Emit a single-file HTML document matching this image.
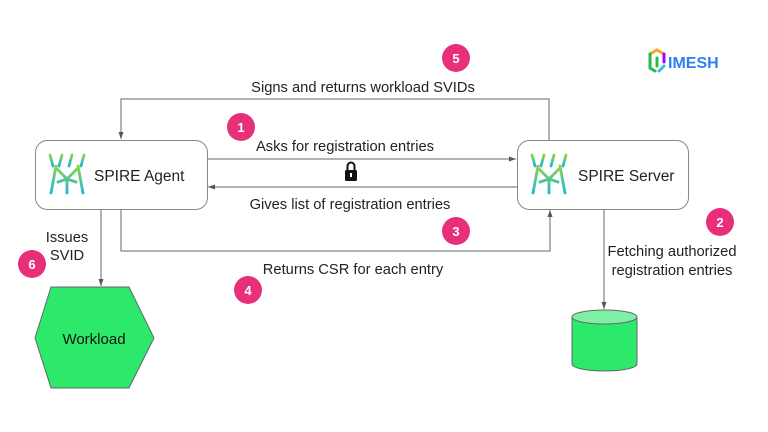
<!DOCTYPE html>
<html><head><meta charset="utf-8"><style>
html,body{margin:0;padding:0;background:#fff;}
svg{display:block;font-family:"Liberation Sans",sans-serif;}
</style></head><body>
<svg width="768" height="432" viewBox="0 0 768 432" xmlns="http://www.w3.org/2000/svg">
<defs>
<marker id="a" markerWidth="8" markerHeight="8" refX="7" refY="4" orient="auto" markerUnits="userSpaceOnUse">
<path d="M0,1.5 L7,4 L0,6.5 Z" fill="#555"/></marker>
<linearGradient id="g" x1="0" y1="0" x2="0" y2="1">
<stop offset="0" stop-color="#8bd640"/><stop offset="1" stop-color="#1fb6e0"/></linearGradient>
<g id="ic" stroke="url(#g)" stroke-width="2.8" fill="none" stroke-linecap="round">
<path d="M0,0 L3,11 M12,0 L9,11 M22,0 L19,11 M34,0 L31,11"/>
<path d="M-2,13 L36,13"/>
<path d="M6,11 L1,38 M28,11 L33,38 M6,13 L17,24 L28,13 M17,24 L17,38 M8,27 L17,24 L26,27"/>
</g>
</defs>
<g stroke="#666" stroke-width="1" fill="none">
<polyline points="549,140 549,99 121,99 121,139" marker-end="url(#a)"/>
<line x1="207" y1="159" x2="516" y2="159" marker-end="url(#a)"/>
<line x1="517" y1="187" x2="208" y2="187" marker-end="url(#a)"/>
<polyline points="121,209 121,251 550,251 550,210" marker-end="url(#a)"/>
<line x1="101" y1="209" x2="101" y2="286" marker-end="url(#a)"/>
<line x1="604" y1="209" x2="604" y2="309" marker-end="url(#a)"/>
</g>
<rect x="35.5" y="140.5" width="172" height="69" rx="12" fill="#fff" stroke="#888"/>
<rect x="517.5" y="140.5" width="171" height="69" rx="12" fill="#fff" stroke="#888"/>
<use href="#ic" x="50" y="155"/>
<use href="#ic" x="532" y="155"/>
<g font-size="15.5" fill="#222">
<text x="94" y="181">SPIRE Agent</text>
<text x="578" y="181">SPIRE Server</text>
</g>
<polygon points="51,287 129,287 154,338 129,388 51,388 35,338" fill="#2ce96c" stroke="#666"/>
<text x="94" y="344" font-size="15" text-anchor="middle" fill="#111">Workload</text>
<path d="M572,317 L572,364 A32.5,7 0 0 0 637,364 L637,317" fill="#2ce96c" stroke="#666"/>
<ellipse cx="604.5" cy="317" rx="32.5" ry="7" fill="#7ef0a4" stroke="#666"/>
<g font-size="14.7" fill="#222" text-anchor="middle">
<text x="363" y="92">Signs and returns workload SVIDs</text>
<text x="345" y="151">Asks for registration entries</text>
<text x="350" y="209">Gives list of registration entries</text>
<text x="353" y="274">Returns CSR for each entry</text>
<text x="67" y="242">Issues</text>
<text x="67" y="260">SVID</text>
<text x="672" y="256">Fetching authorized</text>
<text x="672" y="275">registration entries</text>
</g>
<rect x="345" y="170" width="12" height="11" rx="1.5" fill="#111"/>
<path d="M347.5,171 V166 a3.5,3.5 0 0 1 7,0 V171" fill="none" stroke="#111" stroke-width="2"/>
<rect x="350" y="173" width="2" height="4" fill="#fff"/>
<g fill="#e8307a">
<circle cx="456" cy="58" r="14"/><circle cx="241" cy="127" r="14"/>
<circle cx="456" cy="231" r="14"/><circle cx="248" cy="290" r="14"/>
<circle cx="720" cy="222" r="14"/><circle cx="32" cy="264" r="14"/>
</g>
<g font-size="13" font-weight="bold" fill="#fff" text-anchor="middle">
<text x="456" y="63">5</text><text x="241" y="132">1</text>
<text x="456" y="236">3</text><text x="248" y="295">4</text>
<text x="720" y="227">2</text><text x="32" y="269">6</text>
</g>
<g stroke-width="3" fill="none" stroke-linecap="round">
<path d="M650,54 L657,50 L664,54" stroke="#f5a623"/>
<path d="M664,54 L664,62" stroke="#a0f"/>
<path d="M650,54 L650,68 L655,71" stroke="#2ab94a"/>
<path d="M664,66 L659,71" stroke="#2ac0e0"/>
<path d="M657,58 L657,66" stroke="#2ab94a"/>
</g>
<text x="668" y="68" font-size="16" font-weight="bold" fill="#2d7ff0">IMESH</text>
</svg>
</body></html>
